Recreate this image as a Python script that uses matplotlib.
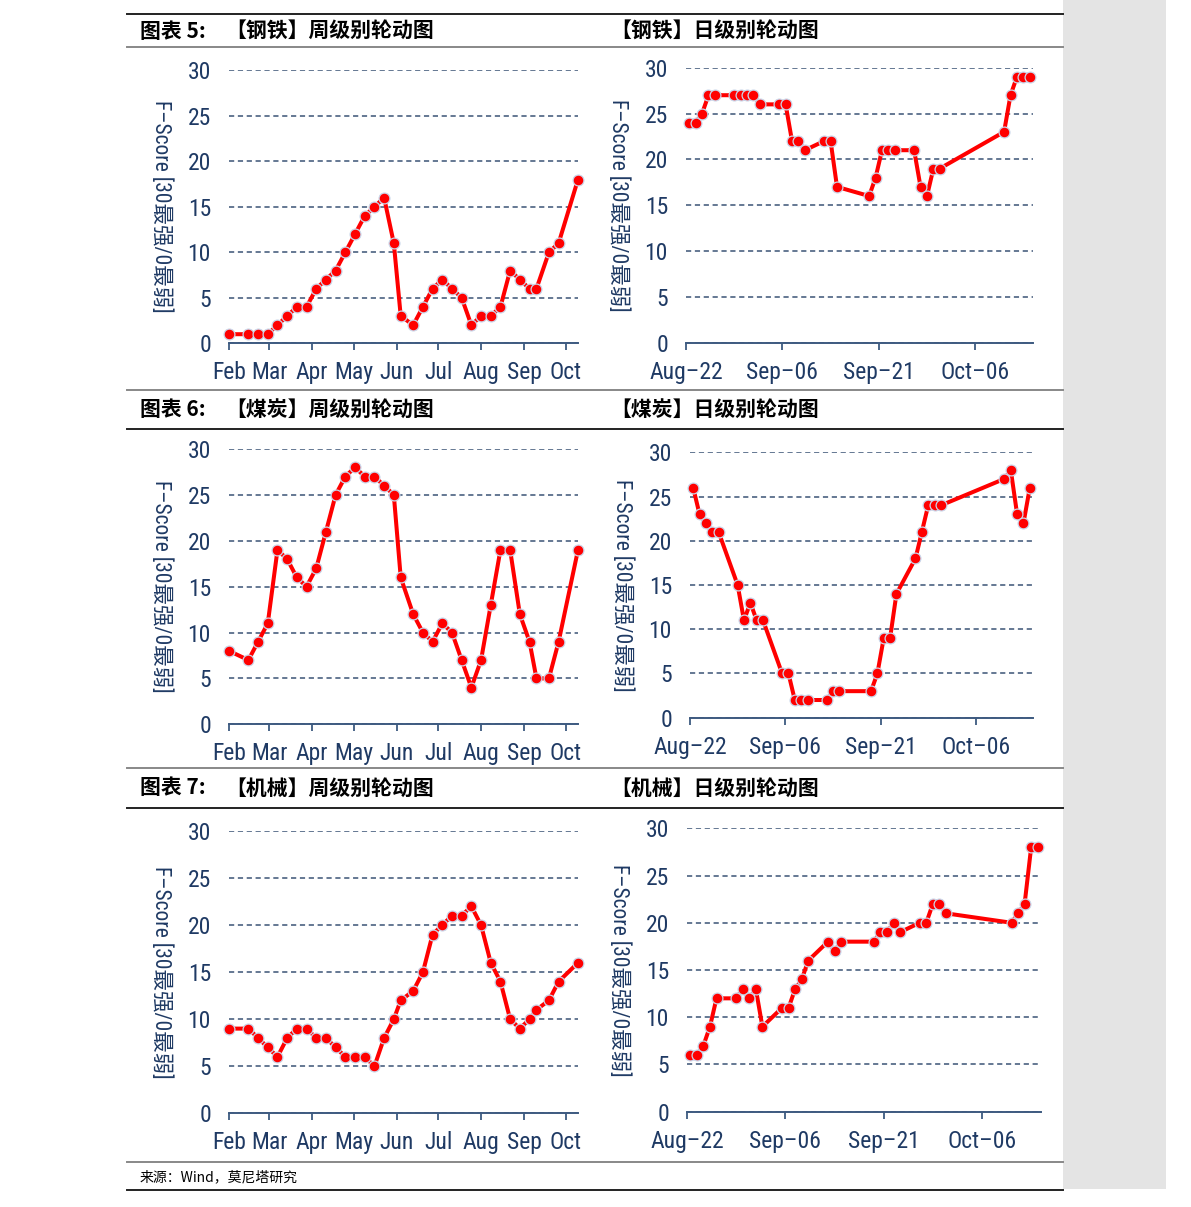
import matplotlib
matplotlib.use("Agg")
import matplotlib.pyplot as plt
from matplotlib import font_manager
from matplotlib.lines import Line2D
from matplotlib.patches import Rectangle
import pandas as pd

W, H = 1191, 1207

# weekly F-Score (2016)
WEEK_DATES = [
  "2016-02-01", "2016-02-15", "2016-02-22", "2016-02-29", "2016-03-07",
  "2016-03-14", "2016-03-21", "2016-03-28", "2016-04-04", "2016-04-11",
  "2016-04-18", "2016-04-25", "2016-05-02", "2016-05-09", "2016-05-16",
  "2016-05-23", "2016-05-30", "2016-06-04", "2016-06-13", "2016-06-20",
  "2016-06-27", "2016-07-04", "2016-07-11", "2016-07-18", "2016-07-25",
  "2016-08-01", "2016-08-08", "2016-08-15", "2016-08-22", "2016-08-29",
  "2016-09-05", "2016-09-10", "2016-09-19", "2016-09-26", "2016-10-10",
]
STEEL_WEEK = [1, 1, 1, 1, 2, 3, 4, 4, 6, 7, 8, 10, 12, 14, 15, 16, 11, 3, 2, 4,
              6, 7, 6, 5, 2, 3, 3, 4, 8, 7, 6, 6, 10, 11, 18]
COAL_WEEK = [8, 7, 9, 11, 19, 18, 16, 15, 17, 21, 25, 27, 28, 27, 27, 26, 25, 16, 12, 10,
             9, 11, 10, 7, 4, 7, 13, 19, 19, 12, 9, 5, 5, 9, 19]
MACH_WEEK = [9, 9, 8, 7, 6, 8, 9, 9, 8, 8, 7, 6, 6, 6, 5, 8, 10, 12, 13, 15,
             19, 20, 21, 21, 22, 20, 16, 14, 10, 9, 10, 11, 12, 14, 16]

# daily F-Score
DAY_DATES = [
  "2016-08-22", "2016-08-23", "2016-08-24", "2016-08-25", "2016-08-26",
  "2016-08-29", "2016-08-30", "2016-08-31", "2016-09-01", "2016-09-02",
  "2016-09-05", "2016-09-06", "2016-09-07", "2016-09-08", "2016-09-09",
  "2016-09-12", "2016-09-13", "2016-09-14",
  "2016-09-19", "2016-09-20", "2016-09-21", "2016-09-22", "2016-09-23",
  "2016-09-26", "2016-09-27", "2016-09-28", "2016-09-29", "2016-09-30",
  "2016-10-10", "2016-10-11", "2016-10-12", "2016-10-13", "2016-10-14",
]
STEEL_DAY = [24, 24, 25, 27, 27, 27, 27, 27, 27, 26, 26, 26, 22, 22, 21, 22, 22, 17,
             16, 18, 21, 21, 21, 21, 17, 16, 19, 19, 23, 27, 29, 29, 29]
COAL_DAY = [26, 23, 22, 21, 21, 15, 11, 13, 11, 11, 5, 5, 2, 2, 2, 2, 3, 3,
            3, 5, 9, 9, 14, 18, 21, 24, 24, 24, 27, 28, 23, 22, 26]
MACH_DAY = [6, 6, 7, 9, 12, 12, 13, 12, 13, 9, 11, 11, 13, 14, 16, 18, 17, 18,
            18, 19, 19, 20, 19, 20, 20, 22, 22, 21, 20, 21, 22, 28, 28]

MONTH_TICKS = ["2016-02-01", "2016-03-01", "2016-04-01", "2016-05-01", "2016-06-01",
               "2016-07-01", "2016-08-01", "2016-09-01", "2016-10-01"]
MONTH_LABELS = ["Feb", "Mar", "Apr", "May", "Jun", "Jul", "Aug", "Sep", "Oct"]
DAY_TICKS = ["2016-08-22", "2016-09-06", "2016-09-21", "2016-10-06"]
DAY_LABELS = ["Aug–22", "Sep–06", "Sep–21", "Oct–06"]

HEADERS = [
  ("图表 5:", "【钢铁】周级别轮动图", "【钢铁】日级别轮动图"),
  ("图表 6:", "【煤炭】周级别轮动图", "【煤炭】日级别轮动图"),
  ("图表 7:", "【机械】周级别轮动图", "【机械】日级别轮动图"),
]

NAVY = "#1f3a64"
GRID = "#3b5375"
CJK = ["Noto Sans CJK SC", "DejaVu Sans"]

NARROW_CANDIDATES = ["Liberation Sans Narrow", "Arial Narrow", "Roboto Condensed",
                     "Archivo Narrow", "PT Sans Narrow", "Fira Sans Condensed",
                     "IBM Plex Sans Condensed", "Open Sans Condensed"]


def pick_narrow():
  have = {f.name for f in font_manager.fontManager.ttflist}
  for name in NARROW_CANDIDATES:
    if name in have:
      return name
  return "DejaVu Sans"


NARROW = pick_narrow()
NUM_FONT = [NARROW, "Noto Sans CJK SC", "DejaVu Sans"]


def fx(x):
  return x / W


def fy(y):
  return 1 - y / H


def hline(fig, y, color, lw, x0=127, x1=1063):
  fig.add_artist(Line2D([fx(x0), fx(x1)], [fy(y), fy(y)], color=color, lw=lw,
                        transform=fig.transFigure))


def make_axes(fig, x0, x1, y0, y30):
  return fig.add_axes([fx(x0), fy(y0), (x1 - x0) / W, (y0 - y30) / H])


def style_axes(ax, ticks, labels, xlim):
  ax.set_ylim(0, 30)
  ax.set_xlim(xlim)
  ax.set_yticks(range(0, 31, 5))
  ax.set_yticklabels([str(v) for v in range(0, 31, 5)], family=NUM_FONT, fontsize=17, color=NAVY)
  ax.set_xticks(pd.to_datetime(ticks))
  ax.set_xticklabels(labels, family=NUM_FONT, fontsize=17, color=NAVY)
  ax.tick_params(axis="y", length=0, pad=13)
  ax.tick_params(axis="x", length=5, width=1.3, color="#3d5a80", pad=8)
  for s in ["top", "right", "left"]:
    ax.spines[s].set_visible(False)
  ax.spines["bottom"].set_color("#3d5a80")
  ax.spines["bottom"].set_linewidth(1.4)
  ax.grid(axis="y", color=GRID, lw=1.1, linestyle=(0, (3.4, 2.4)))
  ax.set_axisbelow(True)
  ax.patch.set_alpha(0)
  ax.set_ylabel("F–Score [30最强/0最弱]", family=NUM_FONT, fontsize=15.5, color=NAVY,
                rotation=270, labelpad=27, va="bottom")


def draw_series(ax, dates, values):
  ax.plot(dates, values, color="#ff0000", lw=2.9, marker="o", markersize=7.8,
          markerfacecolor="#ff0000", markeredgecolor="#c9d6ea", markeredgewidth=0.9,
          clip_on=False, zorder=3)


def main():
  fig = plt.figure(figsize=(W / 100, H / 100), dpi=100)

  fig.add_artist(Rectangle((fx(1063), fy(1189)), (1166 - 1063) / W, 1189 / H,
                           transform=fig.transFigure, color="#e4e4e4", lw=0, zorder=0))

  week = pd.to_datetime(WEEK_DATES)
  day = pd.to_datetime(DAY_DATES) + pd.Timedelta(hours=12)
  week_lim = (week[0], week[-1])
  day_lim = (pd.Timestamp("2016-08-22"), pd.Timestamp("2016-10-15"))

  weekly = [STEEL_WEEK, COAL_WEEK, MACH_WEEK]
  daily = [STEEL_DAY, COAL_DAY, MACH_DAY]

  # per row: header line y, title y, line under title, left axes y0/y30, right axes x0/x1/y0/y30
  rows = [
    (14, 31, 47, 343.3, 70.3, 686, 1033, 342.7, 67.7),
    (390, 410, 429, 724.3, 449.0, 690, 1033, 717.7, 452.3),
    (768, 788, 808, 1113.3, 831.0, 687, 1041, 1111.7, 828.3),
  ]

  for i, (ytop, ytitle, yline, ly0, ly30, rx0, rx1, ry0, ry30) in enumerate(rows):
    hline(fig, ytop, "#222222" if i == 0 else "#888888", 1.4)
    hline(fig, yline, "#888888" if i == 0 else "#222222", 1.4)
    t0, t1, t2 = HEADERS[i]
    fig.text(fx(140), fy(ytitle), t0, family=CJK, fontsize=15, weight="bold", va="center")
    fig.text(fx(225), fy(ytitle), t1, family=CJK, fontsize=15, weight="bold", va="center")
    fig.text(fx(610), fy(ytitle), t2, family=CJK, fontsize=15, weight="bold", va="center")

    ax = make_axes(fig, 229, 578, ly0, ly30)
    style_axes(ax, MONTH_TICKS, MONTH_LABELS, week_lim)
    draw_series(ax, week, weekly[i])

    ax2 = make_axes(fig, rx0, rx1, ry0, ry30)
    style_axes(ax2, DAY_TICKS, DAY_LABELS, day_lim)
    draw_series(ax2, day, daily[i])

  hline(fig, 1162, "#888888", 1.4)
  hline(fig, 1190, "#222222", 1.4)
  fig.text(fx(140), fy(1177), "来源：Wind，莫尼塔研究", family=CJK, fontsize=10, va="center")

  fig.savefig("out.png", dpi=100)
  plt.close(fig)


if __name__ == "__main__":
  main()
